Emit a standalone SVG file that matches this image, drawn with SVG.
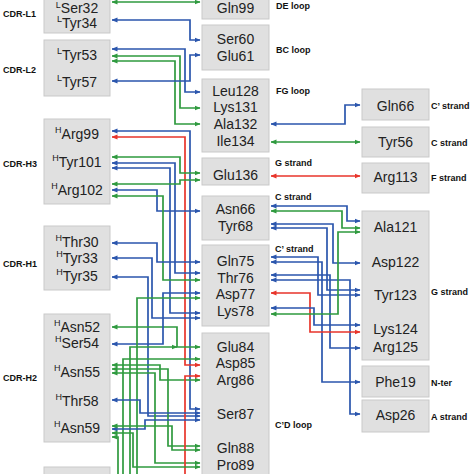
<svg xmlns="http://www.w3.org/2000/svg" width="474" height="474" viewBox="0 0 474 474">
<style>
.box{fill:#e0e0e0;stroke:#c9c9c9;stroke-width:1}
.t{font-family:"Liberation Sans",Arial,sans-serif;font-size:14px;fill:#222;text-anchor:middle}
.sup{font-size:9px}
.lab{font-family:"Liberation Sans",Arial,sans-serif;font-size:9px;font-weight:bold;fill:#111}
.c{fill:none;stroke-width:1.7}
.b{stroke:#2b56ad;marker-start:url(#ab);marker-end:url(#ab)}
.g{stroke:#2f9a3f;marker-start:url(#ag);marker-end:url(#ag)}
.r{stroke:#e8352b;marker-start:url(#ar);marker-end:url(#ar)}
</style>
<defs>
<marker id="ab" viewBox="0 0 6 6" refX="5.5" refY="3" markerWidth="6" markerHeight="6" markerUnits="userSpaceOnUse" orient="auto-start-reverse"><path d="M0,0.6 L6,3 L0,5.4 z" fill="#2b56ad"/></marker>
<marker id="ag" viewBox="0 0 6 6" refX="5.5" refY="3" markerWidth="6" markerHeight="6" markerUnits="userSpaceOnUse" orient="auto-start-reverse"><path d="M0,0.6 L6,3 L0,5.4 z" fill="#2f9a3f"/></marker>
<marker id="ar" viewBox="0 0 6 6" refX="5.5" refY="3" markerWidth="6" markerHeight="6" markerUnits="userSpaceOnUse" orient="auto-start-reverse"><path d="M0,0.6 L6,3 L0,5.4 z" fill="#e8352b"/></marker>
</defs>
<rect width="474" height="474" fill="#fff"/>

<g id="connectors">
<path class="c g" d="M112,2 H200"/>
<path class="c b" d="M112,20 H190 V40 H200"/>
<path class="c b" d="M112,49 H185 V92 H200"/>
<path class="c g" d="M112,56 H180 V108 H200"/>
<path class="c g" d="M112,61 H175 V124 H200"/>
<path class="c b" d="M112,81 H190 V55 H200"/>
<path class="c b" d="M112,131 H190 V409 H200"/>
<path class="c r" d="M112,137 H185 V365 H200"/>
<path class="c g" d="M112,157 H180 V173 H200"/>
<path class="c b" d="M112,163 H175 V273 H200"/>
<path class="c b" d="M112,168 H170 V313 H200"/>
<path class="c g" d="M112,184 H180 V180 H200"/>
<path class="c b" d="M112,190 H157 V211 H200"/>
<path class="c g" d="M112,196 H163 V280 H200"/>
<path class="c b" d="M112,243 H157 V262 H200"/>
<path class="c b" d="M112,258 H152 V318 H200"/>
<path class="c b" d="M112,277 H148 V416 H200"/>
<path class="c g" d="M112,327 H177 V347 H200"/>
<path class="c b" d="M112,344 H163 V293 H200"/>
<path class="c g" d="M137,480 V298 H200"/>
<path class="c g" d="M130,480 V347 H177"/>
<path class="c g" d="M123,480 V359 H200"/>
<path class="c g" d="M112,365 H160 V380 H200"/>
<path class="c g" d="M112,369 H168 V446 H200"/>
<path class="c g" d="M112,373 H155 V463 H200"/>
<path class="c r" d="M185,480 V376 H200"/>
<path class="c b" d="M112,400 H140 V413 H200"/>
<path class="c b" d="M112,429 H145 V420 H200"/>
<path class="c g" d="M112,426 H172 V450 H200"/>
<path class="c g" d="M112,433 H133 V467 H200"/>
<path class="c g" d="M112,437 H118 V480"/>

<path class="c b" d="M271,124 H345 V105 H360"/>
<path class="c g" d="M271,142 H360"/>
<path class="c r" d="M271,176 H360"/>
<path class="c b" d="M271,206 H347 V221 H360"/>
<path class="c g" d="M271,211 H342 V228 H360"/>
<path class="c b" d="M271,224 H333 V263 H360"/>
<path class="c b" d="M271,228 H327 V290 H360"/>
<path class="c b" d="M271,257 H318 V295 H360"/>
<path class="c b" d="M271,262 H322 V382 H360"/>
<path class="c b" d="M271,275 H330 V348 H360"/>
<path class="c b" d="M271,280 H350 V414 H360"/>
<path class="c r" d="M271,293 H310 V332 H360"/>
<path class="c b" d="M271,308 H314 V325 H360"/>
<path class="c g" d="M271,314 H338 V232 H360"/>
</g>

<g id="labels">
<text class="lab" x="3" y="17">CDR-L1</text>
<text class="lab" x="3" y="73">CDR-L2</text>
<text class="lab" x="3" y="167">CDR-H3</text>
<text class="lab" x="3" y="267">CDR-H1</text>
<text class="lab" x="3" y="381">CDR-H2</text>
<text class="lab" x="276" y="9">DE loop</text>
<text class="lab" x="276" y="53">BC loop</text>
<text class="lab" x="276" y="94">FG loop</text>
<text class="lab" x="275" y="166">G strand</text>
<text class="lab" x="275" y="200">C strand</text>
<text class="lab" x="275" y="252">C’ strand</text>
<text class="lab" x="275" y="428">C’D loop</text>
<text class="lab" x="431" y="109">C’ strand</text>
<text class="lab" x="431" y="146">C strand</text>
<text class="lab" x="431" y="181">F strand</text>
<text class="lab" x="431" y="295">G strand</text>
<text class="lab" x="431" y="386">N-ter</text>
<text class="lab" x="431" y="420">A strand</text>
</g>

<g id="L1"><rect class="box" x="44" y="-10" width="66" height="43"/>
<text class="t" x="77" y="13"><tspan class="sup" dy="-5">L</tspan><tspan dy="5">Ser32</tspan></text>
<text class="t" x="77" y="28"><tspan class="sup" dy="-6">L</tspan><tspan dy="6">Tyr34</tspan></text></g>
<g id="L2"><rect class="box" x="44" y="40" width="66" height="56"/>
<text class="t" x="77" y="60"><tspan class="sup" dy="-6">L</tspan><tspan dy="6">Tyr53</tspan></text>
<text class="t" x="77" y="87"><tspan class="sup" dy="-6">L</tspan><tspan dy="6">Tyr57</tspan></text></g>
<g id="H3"><rect class="box" x="44" y="119" width="66" height="85"/>
<text class="t" x="77" y="139"><tspan class="sup" dy="-6">H</tspan><tspan dy="6">Arg99</tspan></text>
<text class="t" x="77" y="167"><tspan class="sup" dy="-6">H</tspan><tspan dy="6">Tyr101</tspan></text>
<text class="t" x="77" y="195"><tspan class="sup" dy="-6">H</tspan><tspan dy="6">Arg102</tspan></text></g>
<g id="H1"><rect class="box" x="44" y="226" width="66" height="64"/>
<text class="t" x="77" y="247"><tspan class="sup" dy="-6">H</tspan><tspan dy="6">Thr30</tspan></text>
<text class="t" x="77" y="263"><tspan class="sup" dy="-6">H</tspan><tspan dy="6">Tyr33</tspan></text>
<text class="t" x="77" y="281"><tspan class="sup" dy="-6">H</tspan><tspan dy="6">Tyr35</tspan></text></g>
<g id="H2"><rect class="box" x="44" y="314" width="66" height="128"/>
<text class="t" x="77" y="332"><tspan class="sup" dy="-6">H</tspan><tspan dy="6">Asn52</tspan></text>
<text class="t" x="77" y="348"><tspan class="sup" dy="-6">H</tspan><tspan dy="6">Ser54</tspan></text>
<text class="t" x="77" y="377"><tspan class="sup" dy="-6">H</tspan><tspan dy="6">Asn55</tspan></text>
<text class="t" x="77" y="406"><tspan class="sup" dy="-6">H</tspan><tspan dy="6">Thr58</tspan></text>
<text class="t" x="77" y="433"><tspan class="sup" dy="-6">H</tspan><tspan dy="6">Asn59</tspan></text></g>
<g id="Lbottom"><rect class="box" x="44" y="467" width="66" height="20"/></g>

<g id="M1"><rect class="box" x="202" y="-10" width="67" height="29"/>
<text class="t" x="235.5" y="13">Gln99</text></g>
<g id="M2"><rect class="box" x="202" y="25" width="67" height="45"/>
<text class="t" x="235.5" y="44">Ser60</text>
<text class="t" x="235.5" y="61">Glu61</text></g>
<g id="M3"><rect class="box" x="202" y="79" width="67" height="73"/>
<text class="t" x="235.5" y="96">Leu128</text>
<text class="t" x="235.5" y="112">Lys131</text>
<text class="t" x="235.5" y="129">Ala132</text>
<text class="t" x="235.5" y="146">Ile134</text></g>
<g id="M4"><rect class="box" x="202" y="158" width="67" height="27"/>
<text class="t" x="235.5" y="180">Glu136</text></g>
<g id="M5"><rect class="box" x="202" y="196" width="67" height="44"/>
<text class="t" x="235.5" y="214">Asn66</text>
<text class="t" x="235.5" y="231">Tyr68</text></g>
<g id="M6"><rect class="box" x="202" y="245" width="67" height="81"/>
<text class="t" x="235.5" y="266">Gln75</text>
<text class="t" x="235.5" y="283">Thr76</text>
<text class="t" x="235.5" y="299">Asp77</text>
<text class="t" x="235.5" y="316">Lys78</text></g>
<g id="M7"><rect class="box" x="202" y="333" width="67" height="150"/>
<text class="t" x="235.5" y="352">Glu84</text>
<text class="t" x="235.5" y="368">Asp85</text>
<text class="t" x="235.5" y="385">Arg86</text>
<text class="t" x="235.5" y="419">Ser87</text>
<text class="t" x="235.5" y="453">Gln88</text>
<text class="t" x="235.5" y="470">Pro89</text></g>

<g id="R1"><rect class="box" x="362" y="89" width="67" height="31"/>
<text class="t" x="395.5" y="111">Gln66</text></g>
<g id="R2"><rect class="box" x="362" y="127" width="67" height="30"/>
<text class="t" x="395.5" y="147">Tyr56</text></g>
<g id="R3"><rect class="box" x="362" y="163" width="67" height="30"/>
<text class="t" x="395.5" y="182">Arg113</text></g>
<g id="R4"><rect class="box" x="362" y="211" width="67" height="149"/>
<text class="t" x="395.5" y="232">Ala121</text>
<text class="t" x="395.5" y="267">Asp122</text>
<text class="t" x="395.5" y="300">Tyr123</text>
<text class="t" x="395.5" y="334">Lys124</text>
<text class="t" x="395.5" y="352">Arg125</text></g>
<g id="R5"><rect class="box" x="362" y="366" width="67" height="31"/>
<text class="t" x="395.5" y="387">Phe19</text></g>
<g id="R6"><rect class="box" x="362" y="400" width="67" height="32"/>
<text class="t" x="395.5" y="420">Asp26</text></g>
</svg>
